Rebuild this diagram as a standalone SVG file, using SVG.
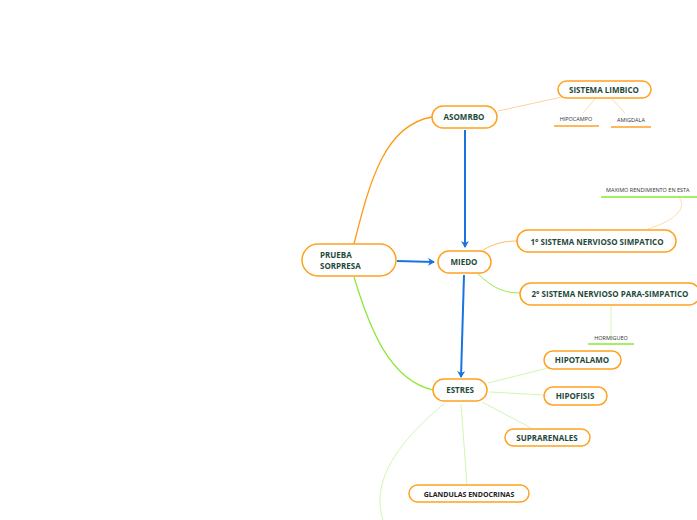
<svg xmlns="http://www.w3.org/2000/svg" width="697" height="520" viewBox="0 0 697 520">
<style>
.n{fill:#fff;stroke:#ffa11f;stroke-width:1.5}
.t{font-family:"Open Sans","Liberation Sans",sans-serif;font-weight:bold;fill:#1f4a3a;font-size:8px}
.s{font-family:"Open Sans","Liberation Sans",sans-serif;fill:#333;font-size:5.5px}
.c{fill:none}
</style>
<defs><marker id="a" markerWidth="8" markerHeight="8" refX="6" refY="4" orient="auto" markerUnits="userSpaceOnUse"><path d="M0,0 L7,4 L0,8 L2,4 Z" fill="#1a74e0"/></marker></defs>
<g id="connectors">
<path class="c" d="M354,244 C370,180 385,125 432,117" stroke="#ff9b1a" stroke-width="1.3"/>
<path class="c" d="M354,277 C370,330 390,380 433,390" stroke="#88e830" stroke-width="1.2"/>
<path class="c" d="M498,111 L562,97" stroke="#ffd29a" stroke-width="1"/>
<path class="c" d="M595,99 L583,113 M612,99 L625,113" stroke="#ffd29a" stroke-width="0.8"/>
<path class="c" d="M483,250 C495,243 505,241 518,241" stroke="#ffbd6a" stroke-width="1"/>
<path class="c" d="M477,273 C490,285 500,293 520,293" stroke="#99ee44" stroke-width="1"/>
<path class="c" d="M648,229 C670,222 690,210 678,196" stroke="#ffd29a" stroke-width="0.8"/>
<path class="c" d="M611,305 L611,342" stroke="#ccf5a8" stroke-width="0.8"/>
<path class="c" d="M488,383 L548,368 M489,392 L545,395 M482,402 L531,428 M461,404 L467,485" stroke="#ccf5a8" stroke-width="0.9"/>
<path class="c" d="M445,403 C400,440 370,480 383,520" stroke="#ccf5a8" stroke-width="0.9"/>
<path class="c" d="M465,130 L465,247" stroke="#1a74e0" stroke-width="2" marker-end="url(#a)"/>
<path class="c" d="M397,261 L434,262" stroke="#1a74e0" stroke-width="2" marker-end="url(#a)"/>
<path class="c" d="M464,275 L461,377" stroke="#1a74e0" stroke-width="2" marker-end="url(#a)"/>
</g>
<g id="prueba"><rect class="n" x="302" y="244" width="94" height="32" rx="16"/><text class="t" x="320" y="258">PRUEBA</text><text class="t" x="320" y="269">SORPRESA</text></g>
<g id="asombro"><rect class="n" x="432" y="106" width="65" height="22" rx="11"/><text class="t" x="464" y="120" text-anchor="middle">ASOMRBO</text></g>
<g id="limbico"><rect class="n" x="558" y="81" width="93" height="17" rx="8.5"/><text class="t" x="604" y="93" text-anchor="middle">SISTEMA LIMBICO</text></g>
<g id="hipocampo"><text class="s" x="576" y="121" text-anchor="middle">HIPOCAMPO</text><line x1="554" y1="126" x2="599" y2="126" stroke="#ffa11f" stroke-width="1.3"/></g>
<g id="amigdala"><text class="s" x="631" y="122" text-anchor="middle">AMIGDALA</text><line x1="611" y1="127" x2="651" y2="127" stroke="#ffa11f" stroke-width="1.3"/></g>
<g id="miedo"><rect class="n" x="438" y="251" width="53" height="22" rx="11"/><text class="t" x="464" y="265" text-anchor="middle">MIEDO</text></g>
<g id="simpatico"><rect class="n" x="517" y="230" width="159" height="22" rx="11"/><text class="t" x="597" y="245" text-anchor="middle">1° SISTEMA NERVIOSO SIMPATICO</text></g>
<g id="maximo"><text class="s" x="606" y="192">MAXIMO RENDIMIENTO EN ESTA</text><line x1="601" y1="197" x2="697" y2="197" stroke="#88e830" stroke-width="1.3"/></g>
<g id="para"><rect class="n" x="520" y="283" width="180" height="22" rx="11"/><text class="t" x="610" y="297" text-anchor="middle">2° SISTEMA NERVIOSO PARA-SIMPATICO</text></g>
<g id="hormigueo"><text class="s" x="611" y="340" text-anchor="middle">HORMIGUEO</text><line x1="588" y1="344" x2="634" y2="344" stroke="#88e830" stroke-width="1.3"/></g>
<g id="estres"><rect class="n" x="433" y="379" width="54" height="22" rx="11"/><text class="t" x="460" y="393" text-anchor="middle">ESTRES</text></g>
<g id="hipotalamo"><rect class="n" x="544" y="351" width="77" height="18" rx="9"/><text class="t" x="582" y="363" text-anchor="middle">HIPOTALAMO</text></g>
<g id="hipofisis"><rect class="n" x="544" y="387" width="63" height="18" rx="9"/><text class="t" x="575" y="399" text-anchor="middle">HIPOFISIS</text></g>
<g id="suprarenales"><rect class="n" x="505" y="429" width="85" height="17" rx="8.5"/><text class="t" x="547" y="441" text-anchor="middle">SUPRARENALES</text></g>
<g id="glandulas"><rect class="n" x="409" y="485" width="120" height="17" rx="8.5"/><text class="t" x="469" y="497" text-anchor="middle" style="font-size:7px;fill:#222">GLANDULAS ENDOCRINAS</text></g>
</svg>
